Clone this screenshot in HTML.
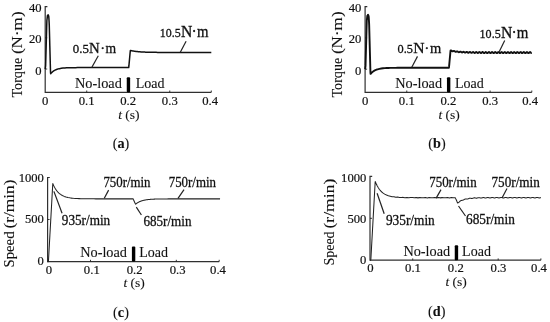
<!DOCTYPE html>
<html><head><meta charset="utf-8"><title>Figure</title>
<style>
html,body{margin:0;padding:0;background:#fff;}
svg{display:block;}
svg text{font-family:'Liberation Serif',serif;fill:#111;stroke:#111;stroke-width:0.1px;}
svg text.b{stroke-width:0.3px;}
svg text.t{stroke-width:0.2px;}
</style></head><body>
<svg width="550" height="322" viewBox="0 0 550 322">
<rect width="550" height="322" fill="#fff"/>
<path d="M47.400000000000006 6.6 H45.2 V92.3 H211.3 " fill="none" stroke="#303030" stroke-width="1.2"/>
<path d="M86.73 92.3 v-1.8" stroke="#222" stroke-width="0.9"/>
<path d="M128.25 92.3 v-1.8" stroke="#222" stroke-width="0.9"/>
<path d="M169.78 92.3 v-1.8" stroke="#222" stroke-width="0.9"/>
<path d="M211.30 92.3 v-1.8" stroke="#222" stroke-width="0.9"/>
<path d="M45.2 37.8 h2" stroke="#222" stroke-width="0.9"/>
<path d="M45.2 69.0 h2" stroke="#222" stroke-width="0.9"/>
<polyline points="45.20,69.00 45.34,67.95 45.48,66.90 45.62,65.71 45.76,60.63 45.90,55.54 46.04,50.46 46.18,45.38 46.32,40.29 46.46,35.21 46.60,30.13 46.74,25.05 46.88,20.48 47.02,19.28 47.16,18.08 47.30,16.87 47.44,15.67 47.58,15.45 47.72,15.26 47.86,15.06 48.00,14.86 48.14,14.79 48.28,15.12 48.42,15.45 48.56,15.77 48.70,16.10 48.84,17.39 48.98,19.68 49.12,21.98 49.26,24.94 49.40,30.21 49.54,35.49 49.68,40.76 49.82,46.04 49.96,51.31 50.10,56.59 50.24,61.86 50.38,67.14 50.52,72.41 50.66,73.71 50.80,73.54 50.94,73.38 51.08,73.22 51.22,73.06 51.36,72.91 51.50,72.76 51.64,72.62 51.78,72.48 51.92,72.34 52.06,72.21 52.20,72.08 52.34,71.96 52.48,71.84 52.62,71.72 52.76,71.61 52.90,71.50 53.04,71.39 53.18,71.28 53.32,71.18 53.46,71.08 53.60,70.99 53.74,70.89 53.88,70.80 54.02,70.71 54.16,70.62 54.30,70.54 54.44,70.46 54.58,70.38 54.72,70.30 54.86,70.23 55.00,70.16 55.14,70.08 55.28,70.02 55.42,69.95 55.56,69.88 55.70,69.82 55.84,69.76 55.98,69.70 56.12,69.64 56.26,69.58 56.40,69.53 56.54,69.47 56.68,69.42 56.82,69.37 56.96,69.32 57.10,69.28 57.24,69.23 57.38,69.18 57.52,69.14 57.66,69.10 59.46,68.64 61.26,68.32 63.06,68.10 64.86,67.95 66.65,67.84 68.45,67.77 70.25,67.72 72.05,67.68 73.85,67.65 75.65,67.64 77.45,67.62 79.25,67.62 81.05,67.61 82.85,67.61 84.65,67.60 86.45,67.60 88.25,67.60 90.05,67.60 91.85,67.60 93.65,67.60 95.45,67.60 97.24,67.60 99.04,67.60 100.84,67.60 102.64,67.60 104.44,67.60 106.24,67.60 108.04,67.60 109.84,67.60 111.64,67.60 113.44,67.60 115.24,67.60 117.04,67.60 118.84,67.60 120.64,67.60 122.44,67.60 124.24,67.60 126.04,67.60 127.83,67.60 128.05,67.60 128.26,67.60 128.47,67.60 128.69,67.60 128.90,65.96 129.11,63.64 129.32,61.33 129.54,59.01 129.75,56.70 129.96,54.38 130.18,52.07 130.39,50.45 130.60,50.50 130.81,50.55 131.03,50.60 131.24,50.65 131.45,50.69 131.67,50.74 131.88,50.78 132.09,50.82 132.30,50.87 132.52,50.91 132.73,50.95 132.94,50.98 133.16,51.02 133.37,51.06 133.58,51.09 133.79,51.13 134.01,51.16 134.22,51.20 134.43,51.23 134.65,51.26 134.86,51.29 135.07,51.32 135.28,51.35 135.50,51.38 135.71,51.40 135.92,51.43 136.14,51.46 136.35,51.48 136.56,51.51 136.77,51.53 136.99,51.55 137.20,51.58 137.41,51.60 137.63,51.62 137.84,51.64 138.05,51.66 138.26,51.68 138.48,51.70 138.69,51.72 138.90,51.74 139.12,51.76 139.33,51.78 139.54,51.80 139.75,51.81 139.97,51.83 140.18,51.84 140.39,51.86 140.61,51.88 140.82,51.89 141.03,51.91 141.24,51.92 141.46,51.93 141.67,51.95 141.88,51.96 142.10,51.97 142.31,51.98 142.52,52.00 142.73,52.01 142.95,52.02 143.16,52.03 143.37,52.04 143.59,52.05 143.80,52.06 144.01,52.07 144.22,52.08 144.44,52.09 144.65,52.10 144.86,52.11 145.08,52.12 145.29,52.13 145.50,52.14 145.71,52.15 145.93,52.15 146.14,52.16 146.35,52.17 146.57,52.18 146.78,52.18 146.99,52.19 147.20,52.20 147.42,52.21 147.63,52.21 147.84,52.22 148.06,52.22 148.27,52.23 148.48,52.24 148.69,52.24 148.91,52.25 149.12,52.25 149.33,52.26 149.55,52.26 149.76,52.27 149.97,52.27 150.18,52.28 150.40,52.28 150.61,52.29 150.82,52.29 151.04,52.30 151.25,52.30 151.46,52.30 151.67,52.31 151.89,52.31 152.10,52.32 152.31,52.32 152.53,52.32 152.74,52.33 152.95,52.33 153.17,52.33 154.66,52.36 156.15,52.37 157.64,52.39 159.13,52.40 160.62,52.41 162.11,52.42 163.60,52.43 165.09,52.43 166.58,52.44 168.07,52.44 169.56,52.45 171.05,52.45 172.54,52.45 174.03,52.45 175.52,52.46 177.02,52.46 178.51,52.46 180.00,52.46 181.49,52.46 182.98,52.46 184.47,52.46 185.96,52.46 187.45,52.46 188.94,52.46 190.43,52.46 191.92,52.46 193.41,52.46 194.90,52.46 196.39,52.46 197.88,52.46 199.37,52.46 200.87,52.46 202.36,52.46 203.85,52.46 205.34,52.46 206.83,52.46 208.32,52.46 209.81,52.46 211.30,52.46" fill="none" stroke="#111" stroke-width="1.5" stroke-linejoin="round"/>
<path d="M367.3 6.6 H365.1 V92.3 H531.8 " fill="none" stroke="#303030" stroke-width="1.2"/>
<path d="M406.77 92.3 v-1.8" stroke="#222" stroke-width="0.9"/>
<path d="M448.45 92.3 v-1.8" stroke="#222" stroke-width="0.9"/>
<path d="M490.12 92.3 v-1.8" stroke="#222" stroke-width="0.9"/>
<path d="M531.80 92.3 v-1.8" stroke="#222" stroke-width="0.9"/>
<path d="M365.1 37.9 h2" stroke="#222" stroke-width="0.9"/>
<path d="M365.1 69.2 h2" stroke="#222" stroke-width="0.9"/>
<polyline points="365.10,69.20 365.24,68.14 365.38,67.09 365.52,65.90 365.66,60.80 365.80,55.70 365.94,50.60 366.08,45.50 366.22,40.40 366.36,35.30 366.50,30.20 366.65,25.10 366.79,20.52 366.93,19.32 367.07,18.11 367.21,16.91 367.35,15.70 367.49,15.48 367.63,15.29 367.77,15.09 367.91,14.89 368.05,14.81 368.19,15.14 368.33,15.47 368.47,15.80 368.61,16.13 368.75,17.42 368.89,19.73 369.03,22.03 369.17,25.00 369.31,30.29 369.45,35.58 369.60,40.87 369.74,46.16 369.88,51.46 370.02,56.75 370.16,62.04 370.30,67.33 370.44,72.62 370.58,73.92 370.72,73.75 370.86,73.59 371.00,73.43 371.14,73.27 371.28,73.12 371.42,72.97 371.56,72.83 371.70,72.69 371.84,72.55 371.98,72.42 372.12,72.29 372.26,72.17 372.40,72.05 372.55,71.93 372.69,71.82 372.83,71.70 372.97,71.60 373.11,71.49 373.25,71.39 373.39,71.29 373.53,71.19 373.67,71.10 373.81,71.01 373.95,70.92 374.09,70.83 374.23,70.75 374.37,70.66 374.51,70.58 374.65,70.51 374.79,70.43 374.93,70.36 375.07,70.29 375.21,70.22 375.35,70.15 375.50,70.09 375.64,70.02 375.78,69.96 375.92,69.90 376.06,69.84 376.20,69.79 376.34,69.73 376.48,69.68 376.62,69.62 376.76,69.57 376.90,69.52 377.04,69.48 377.18,69.43 377.32,69.38 377.46,69.34 377.60,69.30 379.41,68.84 381.21,68.52 383.02,68.30 384.83,68.15 386.63,68.04 388.44,67.96 390.24,67.91 392.05,67.88 393.86,67.85 395.66,67.83 397.47,67.82 399.27,67.81 401.08,67.81 402.89,67.80 404.69,67.80 406.50,67.80 408.30,67.79 410.11,67.79 411.91,67.79 413.72,67.79 415.53,67.79 417.33,67.79 419.14,67.79 420.94,67.79 422.75,67.79 424.56,67.79 426.36,67.79 428.17,67.79 429.97,67.79 431.78,67.79 433.59,67.79 435.39,67.79 437.20,67.79 439.00,67.79 440.81,67.79 442.62,67.79 444.42,67.79 446.23,67.79 448.03,67.79 448.25,67.79 448.46,67.79 448.67,67.79 448.89,67.79 449.10,66.15 449.32,63.82 449.53,61.50 449.74,59.18 449.96,56.86 450.17,54.54 450.38,52.21 450.60,50.36 450.81,50.36 451.02,50.41 451.24,50.51 451.45,50.65 451.66,50.81 451.88,50.98 452.09,51.13 452.31,51.24 452.52,51.30 452.73,51.31 452.95,51.27 453.16,51.20 453.37,51.11 453.59,51.03 453.80,50.97 454.01,50.96 454.23,51.01 454.44,51.10 454.66,51.24 454.87,51.40 455.08,51.56 455.30,51.70 455.51,51.80 455.72,51.84 455.94,51.82 456.15,51.76 456.36,51.66 456.58,51.54 456.79,51.44 457.01,51.38 457.22,51.36 457.43,51.41 457.65,51.51 457.86,51.65 458.07,51.81 458.29,51.97 458.50,52.10 458.71,52.19 458.93,52.21 459.14,52.17 459.36,52.08 459.57,51.96 459.78,51.83 460.00,51.71 460.21,51.64 460.42,51.63 460.64,51.68 460.85,51.79 461.06,51.94 461.28,52.11 461.49,52.27 461.71,52.39 461.92,52.46 462.13,52.47 462.35,52.41 462.56,52.29 462.77,52.15 462.99,52.01 463.20,51.89 463.41,51.81 463.63,51.80 463.84,51.86 464.06,51.98 464.27,52.14 464.48,52.32 464.70,52.48 464.91,52.60 465.12,52.65 465.34,52.64 465.55,52.56 465.76,52.43 465.98,52.27 466.19,52.12 466.41,51.99 466.62,51.92 466.83,51.92 467.05,51.99 467.26,52.12 467.47,52.29 467.69,52.47 467.90,52.64 468.11,52.75 468.33,52.79 468.54,52.76 468.76,52.67 468.97,52.52 469.18,52.34 469.40,52.17 469.61,52.05 469.82,51.98 470.04,51.99 470.25,52.08 470.46,52.22 470.68,52.41 470.89,52.60 471.11,52.76 471.32,52.86 471.53,52.90 471.75,52.85 471.96,52.73 472.17,52.56 472.39,52.37 472.60,52.20 472.81,52.07 473.03,52.02 473.24,52.04 473.45,52.14 473.65,52.29 473.85,52.46 474.04,52.64 474.24,52.80 474.43,52.92 474.63,52.97 474.82,52.95 475.02,52.87 475.21,52.73 475.41,52.55 475.60,52.37 475.80,52.21 475.99,52.09 476.19,52.03 476.38,52.05 476.58,52.13 476.77,52.28 476.97,52.46 477.16,52.65 477.36,52.82 477.55,52.95 477.75,53.03 477.94,53.02 478.14,52.95 478.33,52.81 478.53,52.63 478.72,52.44 478.92,52.26 479.11,52.12 479.31,52.05 479.50,52.04 479.70,52.11 479.89,52.25 480.09,52.43 480.28,52.63 480.48,52.82 480.67,52.97 480.87,53.06 481.07,53.08 481.26,53.02 481.46,52.89 481.65,52.71 481.85,52.50 482.04,52.31 482.24,52.15 482.43,52.05 482.63,52.03 482.82,52.09 483.02,52.22 483.21,52.40 483.41,52.61 483.60,52.81 483.80,52.98 483.99,53.09 484.19,53.12 484.38,53.07 484.58,52.95 484.77,52.77 484.97,52.57 485.16,52.36 485.36,52.19 485.55,52.07 485.75,52.03 485.94,52.07 486.14,52.19 486.33,52.36 486.53,52.57 486.72,52.78 486.92,52.96 487.11,53.08 487.31,53.13 487.50,53.10 487.70,53.00 487.89,52.83 488.09,52.63 488.29,52.42 488.48,52.23 488.68,52.10 488.87,52.05 489.07,52.07 489.26,52.17 489.46,52.33 489.65,52.53 489.85,52.74 490.04,52.93 490.24,53.07 490.43,53.14 490.63,53.12 490.82,53.03 491.02,52.88 491.21,52.68 491.41,52.47 491.60,52.28 491.80,52.13 491.99,52.06 492.19,52.06 492.38,52.14 492.58,52.29 492.77,52.49 492.97,52.70 493.16,52.89 493.36,53.05 493.55,53.13 493.75,53.14 493.94,53.07 494.14,52.92 494.33,52.73 494.53,52.52 494.72,52.33 494.92,52.17 495.11,52.07 495.31,52.06 495.51,52.12 495.70,52.26 495.90,52.44 496.09,52.65 496.29,52.86 496.48,53.02 496.68,53.12 496.87,53.15 497.07,53.09 497.26,52.97 497.46,52.78 497.65,52.58 497.85,52.37 498.04,52.20 498.24,52.09 498.43,52.06 498.63,52.10 498.82,52.22 499.02,52.40 499.21,52.61 499.41,52.81 499.60,52.99 499.80,53.11 499.99,53.15 500.19,53.12 500.38,53.00 500.58,52.83 500.77,52.63 500.97,52.42 501.16,52.24 501.36,52.11 501.55,52.06 501.75,52.09 501.94,52.19 502.14,52.36 502.33,52.56 502.53,52.77 502.73,52.96 502.92,53.09 503.12,53.15 503.31,53.13 503.51,53.04 503.70,52.88 503.90,52.68 504.09,52.47 504.29,52.28 504.48,52.14 504.68,52.07 504.87,52.08 505.07,52.16 505.26,52.32 505.46,52.51 505.65,52.72 505.85,52.92 506.04,53.07 506.24,53.15 506.43,53.15 506.63,53.07 506.82,52.92 507.02,52.73 507.21,52.52 507.41,52.32 507.60,52.17 507.80,52.08 507.99,52.07 508.19,52.14 508.38,52.28 508.58,52.47 508.77,52.68 508.97,52.88 509.16,53.04 509.36,53.13 509.55,53.15 509.75,53.09 509.95,52.96 510.14,52.78 510.34,52.57 510.53,52.36 510.73,52.20 510.92,52.09 511.12,52.06 511.31,52.11 511.51,52.24 511.70,52.42 511.90,52.63 512.09,52.83 512.29,53.01 512.48,53.12 512.68,53.16 512.87,53.11 513.07,53.00 513.26,52.82 513.46,52.62 513.65,52.41 513.85,52.23 514.04,52.11 514.24,52.06 514.43,52.10 514.63,52.21 514.82,52.38 515.02,52.58 515.21,52.79 515.41,52.97 515.60,53.10 515.80,53.16 515.99,53.13 516.19,53.03 516.38,52.87 516.58,52.67 516.77,52.46 516.97,52.27 517.16,52.13 517.36,52.07 517.56,52.08 517.75,52.17 517.95,52.33 518.14,52.53 518.34,52.74 518.53,52.93 518.73,53.08 518.92,53.15 519.12,53.15 519.31,53.06 519.51,52.91 519.70,52.71 519.90,52.50 520.09,52.31 520.29,52.16 520.48,52.08 520.68,52.07 520.87,52.15 521.07,52.29 521.26,52.48 521.46,52.69 521.65,52.89 521.85,53.05 522.04,53.14 522.24,53.15 522.43,53.09 522.63,52.95 522.82,52.76 523.02,52.55 523.21,52.35 523.41,52.19 523.60,52.09 523.80,52.06 523.99,52.12 524.19,52.25 524.38,52.44 524.58,52.64 524.78,52.85 524.97,53.02 525.17,53.13 525.36,53.16 525.56,53.11 525.75,52.99 525.95,52.81 526.14,52.60 526.34,52.40 526.53,52.22 526.73,52.10 526.92,52.06 527.12,52.10 527.31,52.22 527.51,52.39 527.70,52.60 527.90,52.80 528.09,52.98 528.29,53.11 528.48,53.16 528.68,53.13 528.87,53.02 529.07,52.85 529.26,52.65 529.46,52.44 529.65,52.26 529.85,52.13 530.04,52.07 530.24,52.09 530.43,52.18 530.63,52.35 530.82,52.55 531.02,52.76 531.21,52.95 531.41,53.08 531.60,53.15 531.80,53.14" fill="none" stroke="#111" stroke-width="1.9" stroke-linejoin="round"/>
<path d="M49.800000000000004 177.5 H47.6 V261.6 H219.2 " fill="none" stroke="#303030" stroke-width="1.2"/>
<path d="M90.50 261.6 v-1.8" stroke="#222" stroke-width="0.9"/>
<path d="M133.40 261.6 v-1.8" stroke="#222" stroke-width="0.9"/>
<path d="M176.30 261.6 v-1.8" stroke="#222" stroke-width="0.9"/>
<path d="M219.20 261.6 v-1.8" stroke="#222" stroke-width="0.9"/>
<path d="M47.6 219.5 h2" stroke="#222" stroke-width="0.9"/>
<polyline points="47.60,261.60 47.74,261.60 47.89,261.60 48.03,261.60 48.18,261.60 48.32,261.60 48.47,260.66 48.61,258.08 48.76,255.49 48.90,252.91 49.05,250.32 49.19,247.74 49.34,245.15 49.48,242.57 49.62,239.98 49.77,237.40 49.91,234.81 50.06,232.23 50.20,229.64 50.35,227.06 50.49,224.48 50.64,221.89 50.78,219.31 50.93,216.72 51.07,214.14 51.22,211.55 51.36,208.97 51.50,206.38 51.65,203.80 51.79,201.21 51.94,198.63 52.08,196.04 52.23,193.46 52.37,190.87 52.52,188.29 52.66,185.70 52.81,183.42 52.95,183.78 53.10,184.13 53.24,184.46 53.38,184.79 53.53,185.12 53.67,185.43 53.82,185.74 53.96,186.04 54.11,186.34 54.25,186.63 54.40,186.91 54.54,187.18 54.69,187.45 54.83,187.71 54.97,187.97 55.12,188.22 55.26,188.46 55.41,188.70 55.55,188.94 55.70,189.16 55.84,189.39 55.99,189.60 56.13,189.82 56.28,190.03 56.42,190.23 56.57,190.43 56.71,190.62 56.85,190.81 57.00,190.99 57.14,191.18 57.29,191.35 57.43,191.52 57.58,191.69 57.72,191.86 57.87,192.02 58.01,192.18 58.16,192.33 58.30,192.48 58.45,192.63 58.59,192.77 58.73,192.91 58.88,193.05 59.02,193.18 59.17,193.31 59.31,193.44 59.46,193.56 59.60,193.68 59.75,193.80 59.89,193.92 60.04,194.03 60.18,194.14 60.33,194.25 60.47,194.36 62.33,195.52 64.19,196.38 66.05,197.02 67.91,197.50 69.77,197.85 71.62,198.11 73.48,198.31 75.34,198.45 77.20,198.56 79.06,198.63 80.92,198.69 82.78,198.74 84.64,198.77 86.50,198.79 88.36,198.81 90.21,198.82 92.07,198.83 93.93,198.84 95.79,198.85 97.65,198.85 99.51,198.85 101.37,198.86 103.23,198.86 105.09,198.86 106.95,198.86 108.80,198.86 110.66,198.86 112.52,198.86 114.38,198.86 116.24,198.86 118.10,198.86 119.96,198.86 121.82,198.86 123.68,198.86 125.53,198.86 127.39,198.86 129.25,198.86 131.11,198.86 132.97,198.86 133.19,198.86 133.41,199.46 133.63,199.96 133.85,200.45 134.07,200.94 134.29,201.43 134.51,201.93 134.73,202.42 134.95,202.91 135.17,203.40 135.39,203.90 135.61,204.19 135.83,204.00 136.05,203.82 136.27,203.65 136.49,203.49 136.71,203.32 136.93,203.17 137.15,203.02 137.37,202.88 137.59,202.74 137.81,202.60 138.03,202.47 138.25,202.35 138.47,202.23 138.69,202.11 138.91,202.00 139.13,201.89 139.35,201.78 139.57,201.68 139.79,201.58 140.01,201.49 140.23,201.40 140.45,201.31 140.67,201.22 140.89,201.14 141.11,201.06 141.33,200.99 141.55,200.91 141.77,200.84 141.99,200.77 142.21,200.71 142.43,200.64 142.65,200.58 142.87,200.52 143.09,200.46 143.31,200.41 143.53,200.35 143.75,200.30 143.97,200.25 144.19,200.20 144.41,200.16 144.63,200.11 144.85,200.07 145.07,200.03 145.29,199.99 145.51,199.95 145.73,199.91 145.95,199.87 146.17,199.84 146.39,199.80 146.61,199.77 146.83,199.74 147.05,199.71 147.26,199.68 147.48,199.65 147.70,199.62 147.92,199.60 148.14,199.57 148.36,199.55 148.58,199.52 148.80,199.50 149.02,199.48 149.24,199.46 149.46,199.44 149.68,199.42 149.90,199.40 150.12,199.38 150.34,199.36 150.56,199.34 150.78,199.33 151.00,199.31 151.22,199.29 151.44,199.28 151.66,199.26 151.88,199.25 152.10,199.24 152.32,199.22 152.54,199.21 152.76,199.20 152.98,199.19 153.20,199.18 153.42,199.17 153.64,199.15 153.86,199.14 154.08,199.13 154.30,199.13 154.52,199.12 154.74,199.11 154.96,199.10 155.18,199.09 155.40,199.08 155.62,199.07 155.84,199.07 156.06,199.06 156.28,199.05 156.50,199.05 156.72,199.04 156.94,199.03 157.16,199.03 157.38,199.02 157.60,199.02 157.82,199.01 158.04,199.01 158.26,199.00 158.48,199.00 158.70,198.99 158.92,198.99 159.14,198.98 160.70,198.96 162.26,198.93 163.83,198.92 165.39,198.91 166.95,198.90 168.51,198.89 170.07,198.88 171.64,198.88 173.20,198.87 174.76,198.87 176.32,198.87 177.88,198.87 179.45,198.87 181.01,198.87 182.57,198.86 184.13,198.86 185.69,198.86 187.26,198.86 188.82,198.86 190.38,198.86 191.94,198.86 193.50,198.86 195.07,198.86 196.63,198.86 198.19,198.86 199.75,198.86 201.31,198.86 202.88,198.86 204.44,198.86 206.00,198.86 207.56,198.86 209.12,198.86 210.69,198.86 212.25,198.86 213.81,198.86 215.37,198.86 216.93,198.86 218.50,198.86 220.06,198.86" fill="none" stroke="#222" stroke-width="1.05" stroke-linejoin="round"/>
<path d="M372.2 176.3 H370.0 V260.2 H540.9 " fill="none" stroke="#303030" stroke-width="1.2"/>
<path d="M412.73 260.2 v-1.8" stroke="#222" stroke-width="0.9"/>
<path d="M455.45 260.2 v-1.8" stroke="#222" stroke-width="0.9"/>
<path d="M498.18 260.2 v-1.8" stroke="#222" stroke-width="0.9"/>
<path d="M540.90 260.2 v-1.8" stroke="#222" stroke-width="0.9"/>
<path d="M370.0 218.3 h2" stroke="#222" stroke-width="0.9"/>
<polyline points="370.00,260.20 370.14,260.20 370.29,260.20 370.43,260.20 370.58,260.20 370.72,260.20 370.86,259.26 371.01,256.68 371.15,254.09 371.30,251.51 371.44,248.93 371.58,246.34 371.73,243.76 371.87,241.18 372.02,238.59 372.16,236.01 372.30,233.42 372.45,230.84 372.59,228.26 372.74,225.67 372.88,223.09 373.02,220.51 373.17,217.92 373.31,215.34 373.46,212.75 373.60,210.17 373.74,207.59 373.89,205.00 374.03,202.42 374.18,199.84 374.32,197.25 374.46,194.67 374.61,192.08 374.75,189.50 374.90,186.92 375.04,184.33 375.18,181.75 375.33,181.56 375.47,181.93 375.62,182.29 375.76,182.64 375.90,182.99 376.05,183.33 376.19,183.66 376.34,183.98 376.48,184.29 376.62,184.60 376.77,184.90 376.91,185.20 377.06,185.48 377.20,185.76 377.34,186.04 377.49,186.31 377.63,186.57 377.78,186.82 377.92,187.07 378.06,187.32 378.21,187.56 378.35,187.79 378.50,188.02 378.64,188.24 378.79,188.46 378.93,188.67 379.07,188.88 379.22,189.08 379.36,189.28 379.51,189.47 379.65,189.66 379.79,189.84 379.94,190.02 380.08,190.20 380.23,190.37 380.37,190.54 380.51,190.71 380.66,190.87 380.80,191.02 380.95,191.18 381.09,191.33 381.23,191.47 381.38,191.62 381.52,191.76 381.67,191.89 381.81,192.02 381.95,192.16 382.10,192.28 382.24,192.41 382.39,192.53 382.53,192.65 382.67,192.76 382.82,192.88 384.67,194.12 386.52,195.04 388.37,195.73 390.22,196.24 392.07,196.71 393.93,196.71 395.78,197.31 397.63,197.08 399.48,197.46 401.33,197.47 403.18,197.39 405.03,197.76 406.89,197.39 408.74,197.78 410.59,197.58 412.44,197.60 414.29,197.81 416.14,197.47 417.99,197.88 419.85,197.55 421.70,197.72 423.55,197.77 425.40,197.52 427.25,197.90 429.10,197.51 430.95,197.80 432.81,197.69 434.66,197.58 436.51,197.88 438.36,197.48 440.21,197.86 442.06,197.61 443.91,197.66 445.77,197.83 447.62,197.50 449.47,197.90 451.32,197.54 453.17,197.75 455.02,197.76 455.24,197.69 455.46,198.23 455.68,198.66 455.90,199.11 456.12,199.57 456.34,200.05 456.56,200.55 456.77,201.07 456.99,201.60 457.21,202.15 457.43,202.70 457.65,203.06 457.87,202.93 458.09,202.80 458.31,202.67 458.53,202.52 458.75,202.35 458.96,202.18 459.18,201.99 459.40,201.79 459.62,201.59 459.84,201.39 460.06,201.20 460.28,201.02 460.50,200.86 460.72,200.73 460.94,200.61 461.16,200.52 461.37,200.45 461.59,200.40 461.81,200.36 462.03,200.33 462.25,200.31 462.47,200.27 462.69,200.23 462.91,200.17 463.13,200.10 463.35,200.01 463.56,199.90 463.78,199.79 464.00,199.66 464.22,199.53 464.44,199.40 464.66,199.29 464.88,199.18 465.10,199.09 465.32,199.03 465.54,198.98 465.75,198.96 465.97,198.95 466.19,198.96 466.41,198.97 466.63,198.99 466.85,199.01 467.07,199.02 467.29,199.01 467.51,198.99 467.73,198.94 467.94,198.89 468.16,198.81 468.38,198.72 468.60,198.63 468.82,198.53 469.04,198.44 469.26,198.36 469.48,198.30 469.70,198.25 469.92,198.22 470.13,198.21 470.35,198.23 470.57,198.25 470.79,198.29 471.01,198.33 471.23,198.37 471.45,198.41 471.67,198.43 471.89,198.43 472.11,198.42 472.32,198.39 472.54,198.34 472.76,198.27 472.98,198.20 473.20,198.12 473.42,198.04 473.64,197.97 473.86,197.91 474.08,197.87 474.30,197.85 474.51,197.84 474.73,197.86 474.95,197.89 475.17,197.94 475.39,197.99 475.61,198.04 475.83,198.09 476.05,198.13 476.27,198.15 476.49,198.16 476.70,198.14 476.92,198.11 477.14,198.06 477.36,198.00 477.58,197.93 477.80,197.86 478.02,197.79 478.24,197.74 478.46,197.69 478.68,197.67 478.89,197.66 479.11,197.67 479.33,197.70 479.55,197.75 479.77,197.80 479.99,197.86 480.21,197.92 480.43,197.97 480.65,198.00 480.87,198.02 481.08,198.02 481.29,198.01 481.49,197.98 481.69,197.93 481.89,197.88 482.09,197.82 482.29,197.76 482.49,197.70 482.69,197.65 482.89,197.61 483.09,197.58 483.29,197.57 483.49,197.58 483.69,197.60 483.89,197.63 484.09,197.68 484.29,197.73 484.49,197.79 484.69,197.84 484.89,197.89 485.09,197.93 485.29,197.95 485.49,197.96 485.69,197.96 485.89,197.93 486.09,197.90 486.29,197.85 486.49,197.79 486.69,197.73 486.89,197.67 487.09,197.62 487.29,197.57 487.49,197.54 487.69,197.53 487.89,197.53 488.09,197.55 488.29,197.58 488.49,197.62 488.69,197.67 488.89,197.73 489.09,197.79 489.29,197.84 489.49,197.88 489.69,197.91 489.89,197.93 490.09,197.93 490.29,197.92 490.49,197.88 490.69,197.84 490.89,197.79 491.09,197.73 491.29,197.67 491.49,197.62 491.69,197.57 491.89,197.53 492.09,197.51 492.29,197.50 492.49,197.52 492.69,197.54 492.89,197.58 493.09,197.63 493.29,197.69 493.49,197.75 493.69,197.80 493.89,197.85 494.09,197.89 494.29,197.91 494.49,197.92 494.69,197.91 494.89,197.89 495.09,197.85 495.29,197.80 495.49,197.74 495.69,197.68 495.89,197.63 496.09,197.58 496.29,197.53 496.49,197.51 496.69,197.49 496.89,197.50 497.09,197.52 497.29,197.55 497.49,197.60 497.69,197.65 497.89,197.71 498.09,197.77 498.29,197.82 498.49,197.86 498.69,197.89 498.89,197.91 499.09,197.91 499.29,197.89 499.49,197.86 499.69,197.81 499.89,197.76 500.09,197.70 500.29,197.64 500.49,197.59 500.69,197.54 500.89,197.51 501.09,197.49 501.29,197.49 501.49,197.50 501.69,197.53 501.89,197.57 502.09,197.63 502.29,197.68 502.49,197.74 502.69,197.80 502.89,197.84 503.09,197.88 503.29,197.90 503.49,197.91 503.69,197.90 503.89,197.87 504.09,197.83 504.29,197.78 504.49,197.72 504.69,197.67 504.89,197.61 505.09,197.56 505.29,197.52 505.49,197.50 505.69,197.49 505.89,197.49 506.09,197.52 506.29,197.55 506.49,197.60 506.69,197.66 506.89,197.72 507.09,197.77 507.29,197.82 507.49,197.86 507.69,197.89 507.89,197.91 508.09,197.90 508.29,197.88 508.49,197.85 508.69,197.80 508.89,197.75 509.09,197.69 509.29,197.63 509.49,197.58 509.69,197.54 509.89,197.50 510.09,197.49 510.29,197.49 510.49,197.50 510.69,197.54 510.89,197.58 511.09,197.63 511.29,197.69 511.49,197.75 511.69,197.80 511.89,197.85 512.09,197.88 512.29,197.90 512.49,197.90 512.69,197.89 512.89,197.86 513.09,197.82 513.29,197.77 513.49,197.71 513.69,197.66 513.89,197.60 514.09,197.55 514.29,197.51 514.49,197.49 514.69,197.49 514.89,197.49 515.09,197.52 515.29,197.56 515.49,197.61 515.69,197.66 515.89,197.72 516.09,197.78 516.29,197.83 516.49,197.87 516.69,197.89 516.89,197.90 517.09,197.90 517.29,197.88 517.49,197.84 517.69,197.79 517.89,197.74 518.09,197.68 518.29,197.62 518.49,197.57 518.69,197.53 518.89,197.50 519.09,197.49 519.29,197.49 519.49,197.51 519.69,197.54 519.89,197.59 520.09,197.64 520.29,197.70 520.49,197.76 520.69,197.81 520.89,197.85 521.10,197.88 521.30,197.90 521.50,197.90 521.70,197.89 521.90,197.86 522.10,197.81 522.30,197.76 522.50,197.70 522.70,197.65 522.90,197.59 523.10,197.54 523.30,197.51 523.50,197.49 523.70,197.49 523.90,197.50 524.10,197.52 524.30,197.57 524.50,197.62 524.70,197.67 524.90,197.73 525.10,197.79 525.30,197.84 525.50,197.87 525.70,197.90 525.90,197.90 526.10,197.90 526.30,197.87 526.50,197.83 526.70,197.78 526.90,197.73 527.10,197.67 527.30,197.61 527.50,197.56 527.70,197.52 527.90,197.50 528.10,197.49 528.30,197.49 528.50,197.51 528.70,197.55 528.90,197.59 529.10,197.65 529.30,197.71 529.50,197.76 529.70,197.82 529.90,197.86 530.10,197.89 530.30,197.90 530.50,197.90 530.70,197.88 530.90,197.85 531.10,197.81 531.30,197.75 531.50,197.70 531.70,197.64 531.90,197.58 532.10,197.54 532.30,197.51 532.50,197.49 532.70,197.49 532.90,197.50 533.10,197.53 533.30,197.57 533.50,197.62 533.70,197.68 533.90,197.74 534.10,197.79 534.30,197.84 534.50,197.88 534.70,197.90 534.90,197.90 535.10,197.89 535.30,197.87 535.50,197.83 535.70,197.78 535.90,197.72 536.10,197.66 536.30,197.61 536.50,197.56 536.70,197.52 536.90,197.49 537.10,197.48 537.30,197.49 537.50,197.52 537.70,197.55 537.90,197.60 538.10,197.66 538.30,197.71 538.50,197.77 538.70,197.82 538.90,197.86 539.10,197.89 539.30,197.90 539.50,197.90 539.70,197.88 539.90,197.85 540.10,197.80 540.30,197.74 540.50,197.69 540.70,197.63 540.90,197.58" fill="none" stroke="#222" stroke-width="1.05" stroke-linejoin="round"/>
<text x="45.2" y="105.0" font-size="12.7" text-anchor="middle" class="t">0</text>
<text x="86.7" y="105.0" font-size="12.7" text-anchor="middle" class="t">0.1</text>
<text x="128.2" y="105.0" font-size="12.7" text-anchor="middle" class="t">0.2</text>
<text x="169.8" y="105.0" font-size="12.7" text-anchor="middle" class="t">0.3</text>
<text x="210.1" y="105.0" font-size="12.7" text-anchor="middle" class="t">0.4</text>
<text x="128.9" y="118.5" font-size="13.5" text-anchor="middle" ><tspan font-style="italic">t</tspan> (s)</text>
<text x="365.1" y="105.0" font-size="12.7" text-anchor="middle" class="t">0</text>
<text x="406.8" y="105.0" font-size="12.7" text-anchor="middle" class="t">0.1</text>
<text x="448.4" y="105.0" font-size="12.7" text-anchor="middle" class="t">0.2</text>
<text x="490.1" y="105.0" font-size="12.7" text-anchor="middle" class="t">0.3</text>
<text x="530.1" y="105.0" font-size="12.7" text-anchor="middle" class="t">0.4</text>
<text x="449.1" y="118.5" font-size="13.5" text-anchor="middle" ><tspan font-style="italic">t</tspan> (s)</text>
<text x="48.9" y="273.6" font-size="12.7" text-anchor="middle" class="t">0</text>
<text x="91.8" y="273.6" font-size="12.7" text-anchor="middle" class="t">0.1</text>
<text x="134.7" y="273.6" font-size="12.7" text-anchor="middle" class="t">0.2</text>
<text x="177.6" y="273.6" font-size="12.7" text-anchor="middle" class="t">0.3</text>
<text x="218.0" y="273.6" font-size="12.7" text-anchor="middle" class="t">0.4</text>
<text x="134.1" y="286.6" font-size="13.5" text-anchor="middle" ><tspan font-style="italic">t</tspan> (s)</text>
<text x="370.3" y="272.2" font-size="12.7" text-anchor="middle" class="t">0</text>
<text x="413.0" y="272.2" font-size="12.7" text-anchor="middle" class="t">0.1</text>
<text x="455.8" y="272.2" font-size="12.7" text-anchor="middle" class="t">0.2</text>
<text x="498.5" y="272.2" font-size="12.7" text-anchor="middle" class="t">0.3</text>
<text x="539.0" y="272.2" font-size="12.7" text-anchor="middle" class="t">0.4</text>
<text x="456.1" y="285.59999999999997" font-size="13.5" text-anchor="middle" ><tspan font-style="italic">t</tspan> (s)</text>
<text x="41.5" y="12.05" font-size="12.6" text-anchor="end" class="t">40</text>
<text x="41.5" y="43.05" font-size="12.6" text-anchor="end" class="t">20</text>
<text x="41.5" y="74.55" font-size="12.6" text-anchor="end" class="t">0</text>
<text x="361.40000000000003" y="12.05" font-size="12.6" text-anchor="end" class="t">40</text>
<text x="361.40000000000003" y="43.05" font-size="12.6" text-anchor="end" class="t">20</text>
<text x="361.40000000000003" y="74.55" font-size="12.6" text-anchor="end" class="t">0</text>
<text x="43.9" y="182.25" font-size="12.6" text-anchor="end" class="t">1000</text>
<text x="43.9" y="223.45" font-size="12.6" text-anchor="end" class="t">500</text>
<text x="43.9" y="264.85" font-size="12.6" text-anchor="end" class="t">0</text>
<text x="366.3" y="182.25" font-size="12.6" text-anchor="end" class="t">1000</text>
<text x="366.3" y="223.05" font-size="12.6" text-anchor="end" class="t">500</text>
<text x="366.3" y="264.15" font-size="12.6" text-anchor="end" class="t">0</text>
<text transform="translate(22.2 97.6) rotate(-90)" font-size="14" textLength="39.9" lengthAdjust="spacingAndGlyphs">Torque</text>
<text transform="translate(22.2 54.1) rotate(-90)" font-size="14" textLength="42.7" lengthAdjust="spacingAndGlyphs">(N·m)</text>
<text transform="translate(341.8 97.6) rotate(-90)" font-size="14" textLength="39.9" lengthAdjust="spacingAndGlyphs">Torque</text>
<text transform="translate(341.8 54.1) rotate(-90)" font-size="14" textLength="42.7" lengthAdjust="spacingAndGlyphs">(N·m)</text>
<text transform="translate(13.6 267.6) rotate(-90)" font-size="14" textLength="36.2" lengthAdjust="spacingAndGlyphs">Speed</text>
<text transform="translate(13.6 228.5) rotate(-90)" font-size="14" textLength="49.0" lengthAdjust="spacingAndGlyphs">(r/min)</text>
<text transform="translate(334.3 265.6) rotate(-90)" font-size="14" textLength="34.2" lengthAdjust="spacingAndGlyphs">Speed</text>
<text transform="translate(334.3 228.5) rotate(-90)" font-size="14" textLength="49.8" lengthAdjust="spacingAndGlyphs">(r/min)</text>
<rect x="126.75" y="77.20" width="3.4" height="15.0" rx="1" fill="#000"/>
<text x="121.8" y="87.6" font-size="14.5" text-anchor="end" textLength="46.8" lengthAdjust="spacingAndGlyphs" >No-load</text>
<text x="135.8" y="87.6" font-size="14.5" text-anchor="start" textLength="28.8" lengthAdjust="spacingAndGlyphs" >Load</text>
<rect x="446.95" y="77.20" width="3.4" height="15.0" rx="1" fill="#000"/>
<text x="442.1" y="87.6" font-size="14.5" text-anchor="end" textLength="46.8" lengthAdjust="spacingAndGlyphs" >No-load</text>
<text x="454.9" y="87.6" font-size="14.5" text-anchor="start" textLength="28.8" lengthAdjust="spacingAndGlyphs" >Load</text>
<rect x="131.90" y="246.60" width="3.4" height="15.0" rx="1" fill="#000"/>
<text x="127.0" y="257.0" font-size="14.5" text-anchor="end" textLength="46.8" lengthAdjust="spacingAndGlyphs" >No-load</text>
<text x="139.2" y="257.0" font-size="14.5" text-anchor="start" textLength="28.8" lengthAdjust="spacingAndGlyphs" >Load</text>
<rect x="454.75" y="245.20" width="3.4" height="15.0" rx="1" fill="#000"/>
<text x="450.2" y="255.6" font-size="14.5" text-anchor="end" textLength="46.8" lengthAdjust="spacingAndGlyphs" >No-load</text>
<text x="462.1" y="255.6" font-size="14.5" text-anchor="start" textLength="28.8" lengthAdjust="spacingAndGlyphs" >Load</text>
<text class="b" lengthAdjust="spacingAndGlyphs" x="72.8" y="53.0" font-size="13.2" textLength="16.1">0.5</text>
<text class="b" x="88.9" y="53.0" font-size="14.8">N</text>
<text class="b" x="102.6" y="53.0" font-size="14.8" text-anchor="middle">·</text>
<text class="b" lengthAdjust="spacingAndGlyphs" x="105.5" y="53.0" font-size="14.8" textLength="10.6">m</text>
<path d="M91.6 67.7 L98.3 55.7" stroke="#222" stroke-width="1.2" fill="none"/>
<text class="b" lengthAdjust="spacingAndGlyphs" x="159.8" y="36.5" font-size="13.5" textLength="20.9">10.5</text>
<text class="b" x="181.0" y="36.5" font-size="15.7">N</text>
<text class="b" x="194.2" y="36.5" font-size="15.7" text-anchor="middle">·</text>
<text class="b" lengthAdjust="spacingAndGlyphs" x="197.1" y="36.5" font-size="15.7" textLength="11.5">m</text>
<path d="M180.3 52.2 L186.1 41.3" stroke="#222" stroke-width="1.2" fill="none"/>
<text class="b" lengthAdjust="spacingAndGlyphs" x="397.6" y="52.7" font-size="13.4" textLength="15.4">0.5</text>
<text class="b" x="413.2" y="52.7" font-size="15.6">N</text>
<text class="b" x="426.9" y="52.7" font-size="15.6" text-anchor="middle">·</text>
<text class="b" lengthAdjust="spacingAndGlyphs" x="429.9" y="52.7" font-size="15.6" textLength="11.3">m</text>
<path d="M411.8 67.3 L417.5 56.4" stroke="#222" stroke-width="1.2" fill="none"/>
<text class="b" lengthAdjust="spacingAndGlyphs" x="479.6" y="37.5" font-size="13.5" textLength="21.1">10.5</text>
<text class="b" x="501.0" y="37.5" font-size="15.7">N</text>
<text class="b" x="514.0" y="37.5" font-size="15.7" text-anchor="middle">·</text>
<text class="b" lengthAdjust="spacingAndGlyphs" x="516.8" y="37.5" font-size="15.7" textLength="11.6">m</text>
<path d="M499.2 51.8 L504.7 40.5" stroke="#222" stroke-width="1.2" fill="none"/>
<text x="103.4" y="186.9" font-size="14.5" text-anchor="start" textLength="47.1" lengthAdjust="spacingAndGlyphs" class="b">750r/min</text>
<path d="M104.3 198.3 L108.6 190.1" stroke="#222" stroke-width="1.2" fill="none"/>
<text x="168.7" y="187.1" font-size="14.5" text-anchor="start" textLength="47.3" lengthAdjust="spacingAndGlyphs" class="b">750r/min</text>
<path d="M178 198.3 L184 189.6" stroke="#222" stroke-width="1.2" fill="none"/>
<text x="61.8" y="224.9" font-size="14.5" text-anchor="start" textLength="48.4" lengthAdjust="spacingAndGlyphs" class="b">935r/min</text>
<path d="M53.9 191.4 L62.1 213.2" stroke="#222" stroke-width="1.2" fill="none"/>
<text x="143.4" y="225.9" font-size="14.5" text-anchor="start" textLength="48.1" lengthAdjust="spacingAndGlyphs" class="b">685r/min</text>
<path d="M136.3 207.2 L141.4 215" stroke="#222" stroke-width="1.2" fill="none"/>
<text x="429.2" y="186.9" font-size="14.5" text-anchor="start" textLength="47.5" lengthAdjust="spacingAndGlyphs" class="b">750r/min</text>
<path d="M436.3 197.9 L441 189.6" stroke="#222" stroke-width="1.2" fill="none"/>
<text x="491.5" y="187.0" font-size="14.5" text-anchor="start" textLength="48.3" lengthAdjust="spacingAndGlyphs" class="b">750r/min</text>
<path d="M502 198 L507 188.5" stroke="#222" stroke-width="1.2" fill="none"/>
<text x="385.9" y="224.5" font-size="14.5" text-anchor="start" textLength="48.9" lengthAdjust="spacingAndGlyphs" class="b">935r/min</text>
<path d="M377.1 193.3 L384.2 213.8" stroke="#222" stroke-width="1.2" fill="none"/>
<text x="466" y="224.1" font-size="14.5" text-anchor="start" textLength="48.8" lengthAdjust="spacingAndGlyphs" class="b">685r/min</text>
<path d="M458.5 206 L465.5 216" stroke="#222" stroke-width="1.2" fill="none"/>
<text x="121.0" y="147.9" font-size="14.2" text-anchor="middle">(<tspan font-weight="bold">a</tspan>)</text>
<text x="437" y="147.8" font-size="14.2" text-anchor="middle">(<tspan font-weight="bold">b</tspan>)</text>
<text x="121" y="316.7" font-size="14.2" text-anchor="middle">(<tspan font-weight="bold">c</tspan>)</text>
<text x="436.8" y="316.3" font-size="14.2" text-anchor="middle">(<tspan font-weight="bold">d</tspan>)</text>
</svg>
</body></html>
